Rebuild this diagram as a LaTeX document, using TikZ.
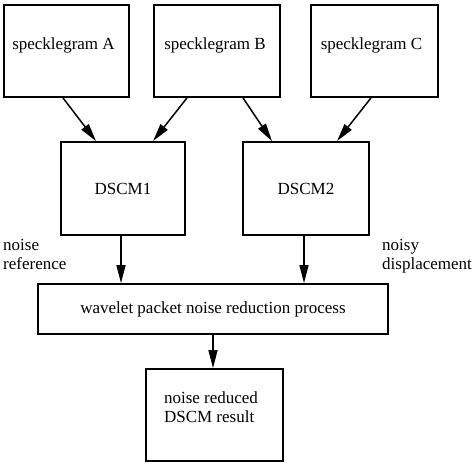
\documentclass[tikz,border=0pt]{standalone}
\usepackage{fontspec}
\setmainfont{Liberation Serif}
\usetikzlibrary{arrows.meta}
\tikzset{box/.style={draw, line width=1.8pt, minimum height=92pt, inner sep=0pt},
	txt/.style={inner sep=0pt, align=left}}
\begin{document}
\begin{tikzpicture}[x=1pt, y=1pt, font=\fontsize{17}{19.5}\selectfont, line join=miter, >={Triangle[length=18pt,width=9pt]}]
				\useasboundingbox (0,0) rectangle (474,-464);
				% the three specklegrams
				\node[box, minimum width=125pt] (spA) at (66.5,-51) {};
				\node[box, minimum width=126pt] (spB) at (217,-51) {};
				\node[box, minimum width=127pt] (spC) at (374.5,-51) {};
				\node[txt] (tA) at ([xshift=-3,yshift=6]spA.center) {specklegram A};
				\node[txt] (tB) at ([xshift=-2,yshift=6]spB.center) {specklegram B};
				\node[txt] (tC) at ([xshift=-3,yshift=6]spC.center) {specklegram C};
				% correlation
				\node[box, minimum width=124pt, minimum height=93pt] (dscm1) at (123,-188.5) {DSCM1};
				\node[box, minimum width=126pt, minimum height=93pt] (dscm2) at (306,-188.5) {DSCM2};
				\draw[line width=1.5pt, ->] ([xshift=-3.5]spA.south)--([xshift=-27]dscm1.north);
				\draw[line width=1.5pt, ->] ([xshift=-30]spB.south)--([xshift=30]dscm1.north);
				\draw[line width=1.5pt, ->] ([xshift=26]spB.south)--([xshift=-34]dscm2.north);
				\draw[line width=1.5pt, ->] ([xshift=-3.5]spC.south)--([xshift=31]dscm2.north);
				% noise reduction
				\node[box, minimum width=350pt, minimum height=50pt] (wp) at (213,-309) {wavelet packet noise reduction process};
				\node[box, minimum width=137pt] (res) at (214.5,-415) {};
				\node[txt] (tres) at ([xshift=-3.5,yshift=8]res.center) {noise reduced\\DSCM result};
				\draw[line width=1.5pt, ->] ([xshift=-2]dscm1.south)--([xshift=-2]dscm1.south |- wp.north);
				\draw[line width=1.5pt, ->] ([xshift=-2]dscm2.south)--([xshift=-2]dscm2.south |- wp.north);
				\draw[line width=1.5pt, ->] (wp.south)--(wp.south |- res.north);
				\node[txt, anchor=north west] (nref) at (3,-239) {noise\\reference};
				\node[txt, anchor=north west] (ndisp) at (382,-239) {noisy\\displacement};
			\end{tikzpicture}
\end{document}
